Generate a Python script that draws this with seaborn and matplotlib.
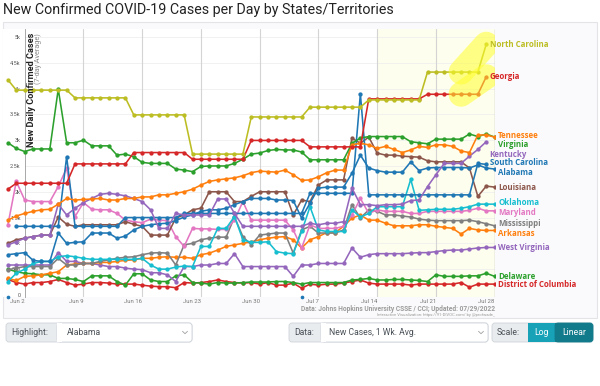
import numpy as np
import pandas as pd
import matplotlib.pyplot as plt
import matplotlib.dates as mdates
from matplotlib.patches import Rectangle, FancyBboxPatch
import seaborn as sns

nan = np.nan
dates = pd.date_range('2022-05-31', '2022-07-28', freq='D')

# 7-day average of new cases (May 31 .. Jul 28)
north_carolina = [4170, 3970, 3970, 3970, 3970, 3970, 3970, 3970,
                  3820, 3820, 3820, 3820, 3820, 3820, 3820,
                  3490, 3490, 3490, 3490, 3490, 3490, 3490,
                  2730, 2730, 2730, 2730, 2730, 2730, 2730,
                  3450, 3450, 3450, 3450, 3450, 3450, 3450,
                  3640, 3640, 3640, 3640, 3640, 3640, 3640,
                  3780, 3780, 3780, 3780, 3780, 3780, 3780,
                  4320, 4320, 4320, 4320, 4320, 4320, 4320,
                  4860, nan]
georgia = [2050, 2165, 2165, 2165, 2165, 2165, 2165, 2165,
           2540, 2540, 2540, 2540, 2540, 2540, 2540,
           2760, 2760, 2760, 2760, 2760, 2760, 2760,
           2630, 2630, 2630, 2630, 2630, 2630, 2630,
           2995, 2995, 2995, 2995, 2995, 2995, 2995,
           2870, 2870, 2870, 2870, 2870, 2870, 2870,
           3800, 3800, 3800, 3800, 3800, 3800, 3800,
           3890, 3890, 3890, 3890, 3890, 3890, 3890,
           4230, nan]
tennessee = [1450, 1530, 1580, 1620, 1650, 1660, 1760, 1870, 1840, 1850,
             1860, 1870, 1840, 1840, 1870, 1870, 1900, 1900, 1940, 1940,
             1970, 2000, 2050, 2130, 2200, 2230, 2250, 2270, 2310, 2370,
             2400, 2390, 2380, 2420, 2330, 2220, 2230, 2290, 2370, 2420,
             2420, 2910, 2940, 2910, 2840, 2880, 2820, 2760, 2810, 2880,
             2860, 2910, 2910, 2880, 2790, 2760, 3100, 3100, 3060]
virginia = [2950, 2840, 2780, 2830, 2830, 2830, 3990, 2950, 2950, 3000,
            2890, 2890, 2890, 2710, 2730, 2680, 2570, 2550, 2550, 2550,
            2440, 2420, 2390, 2490, 2500, 2500, 2500, 2550, 2630, 2730,
            2750, 2800, 2820, 2810, 2810, 2770, 2620, 2620, 2620, 2620,
            2620, 2940, 3040, 3070, 3070, 3070, 3070, 3070, 2970, 2950,
            2930, 3020, 3020, 3020, 3020, 3120, 3070, 3120, 3060]
kentucky = [970, 1030, 1100, 1130, 1160, 1160, 1760, 1550, 1680, 1790,
            1870, 1950, 1970, 1950, 1920, 1870, 1810, 1650, 1290, 1290,
            1580, 1550, 1550, 1550, 1550, 1860, 1860, 1580, 1330, 1330,
            1330, 1330, 1330, 1330, 1330, 1330, 1390, 1360, 1390, 1390,
            1420, 2070, 1750, 1750, 1730, 1750, 1750, 1760, 1830, 1840,
            2100, 2330, 2550, 2550, 2550, 2690, 2820, 2970, nan]
south_carolina = [nan, 1330, 1330, 1330, 1330, 1330, 1330, 2680, 1330, 1330,
                  1330, 1330, 1330, 1330, 1500, 1500, 1500, 1500, 1500, 1500,
                  1500, 1580, 1580, 1580, 1580, 1580, 1580, 1580, 1580, 1580,
                  1580, 1580, 1580, 1580, 1580, 1580, 1970, 1970, 1970, 1970,
                  1970, 1970, 3900, 1940, 1940, 1940, 1940, 1940, 1940, 1940,
                  1940, 1940, 1940, 1940, 1940, 1940, 2550, 2530, nan]
alabama = [780, 800, 820, 670, 650, 650, 1200, 1000, 1020, 1030,
           1200, 1200, 1200, 1100, 1140, 1260, 1330, 1360, 1380, 1390,
           1440, 1510, 1550, 1620, 1650, 1650, 1680, 1750, 1810, 1870,
           1870, 1870, 1840, 1840, 1830, 1490, 1780, 2070, 2090, 2090,
           2090, 2360, 2710, 2460, 2410, 2380, 2380, 2380, 2580, 2410,
           2460, 2470, 2470, 2470, 2470, 2460, 2520, 2460, 2440]
louisiana = [1000, 1070, 1100, 1130, 1160, 1160, 1510, 1370, 1330, 1360,
             1360, 1360, 1360, 1360, 1420, 1370, 1330, 1160, 1160, 1160,
             1490, 1550, 1650, 1680, 2000, 2000, 2000, 1810, 1810, 1910,
             2000, 2000, 2000, 2000, 1550, 1840, 1810, 2130, 2230, 2230,
             2230, 3040, 2940, 3060, 2750, 2710, 2710, 2690, 2680, 2670,
             2600, 2580, 2580, 2580, 2580, 2460, 1910, 2110, 2090]
oklahoma = [260, 420, 500, 610, 650, 650, 740, 760, 740, 710,
            690, 690, 690, 690, 690, 690, 710, 580, 500, 500,
            540, 560, 550, 940, 940, 1290, 1290, 1520, 1070, 1020,
            1020, 1030, 840, 810, 800, 1230, 1710, 1260, 1230, 1230,
            1230, 1650, 1510, 1580, 1710, 1710, 1710, 1710, 2240, 1640,
            1650, 1660, 1660, 1660, 1680, 1710, 1760, 1760, 1760]
maryland = [1360, 2200, 1840, 1810, 1810, 1810, 2100, 2460, 1520, 1790,
            1660, 1650, 1650, 1580, 1450, 1420, 1400, 1470, 1450, 1440,
            1130, 940, 1290, 1280, 1280, 1270, 1270, 1450, 1810, 1450,
            1450, 1450, 1450, 1450, 1260, 910, 1360, 1290, 1290, 1290,
            1330, 1550, 1870, 1580, 1650, 1620, 1620, 1620, 1580, 1580,
            1620, 1620, 1620, 1620, 1620, 1640, 1680, 1630, 1630]
mississippi = [490, 520, 550, 550, 550, 550, 710, 580, 580, 610,
               610, 650, 680, 710, 730, 740, 780, 810, 820, 810,
               580, 970, 1000, 1070, 1100, 1120, 1120, 1510, 1130, 970,
               1160, 1180, 1200, 1200, 810, 1260, 1330, 1200, 1200, 1200,
               1260, 1750, 1490, 1650, 1620, 1550, 1550, 1530, 1510, 1470,
               1450, 1440, 1440, 1440, 1440, 1450, 1420, 1380, 1340]
arkansas = [320, 280, 360, 370, 390, 420, 450, 580, 600, 610,
            610, 630, 630, 650, 670, 680, 710, 710, 730, 740,
            730, 730, 710, 780, 810, 870, 940, 970, 1000, 1030,
            1070, 1100, 1120, 1130, 1070, 910, 1070, 1130, 1210, 1210,
            1330, 1490, 1550, 1450, 1450, 1390, 1340, 1340, 1340, 1360,
            1360, 1330, 1310, 1290, 1180, 1290, 1260, 1250, 1250]
west_virginia = [580, 580, 580, 580, 580, 580, 820, 650, 650, 610,
                 610, 580, 550, 550, 520, 500, 490, 430, 430, 390,
                 260, 550, 550, 580, 580, 610, 610, 800, 550, 550,
                 550, 550, 550, 550, 360, 580, 580, 610, 610, 610,
                 610, 910, 730, 780, 800, 800, 800, 800, 810, 820,
                 820, 840, 860, 870, 870, 890, 910, 920, 920]
delaware = [500, 450, 420, 410, 390, 390, 320, 320, 300, 260,
            370, 370, 370, 260, 190, 410, 410, 290, 260, 260,
            370, 390, 240, 230, 210, 240, 230, 230, 240, 250,
            250, 250, 260, 260, 240, 210, 240, 240, 240, 240,
            240, 290, 300, 320, 290, 290, 300, 300, 290, 280,
            260, 390, 360, 360, 360, 370, 370, 420, 360]
district_of_columbia = [300, 240, 210, 240, 240, 260, 300, 240, 190, 210,
                        240, 240, 230, 210, 210, 210, 190, 170, 160, 160,
                        140, 240, 230, 240, 260, 290, 260, 240, 230, 240,
                        210, 240, 190, 190, 230, 130, 210, 190, 210, 210,
                        230, 260, 290, 230, 210, 210, 210, 210, 190, 210,
                        210, 210, 210, 210, 240, 150, 210, 210, 210]

series = {
    'District of Columbia': district_of_columbia,
    'Delaware': delaware,
    'West Virginia': west_virginia,
    'Arkansas': arkansas,
    'Mississippi': mississippi,
    'Maryland': maryland,
    'Oklahoma': oklahoma,
    'Louisiana': louisiana,
    'Alabama': alabama,
    'South Carolina': south_carolina,
    'Kentucky': kentucky,
    'Virginia': virginia,
    'Tennessee': tennessee,
    'Georgia': georgia,
    'North Carolina': north_carolina,
}
colors = {
    'District of Columbia': '#d62728', 'Delaware': '#2ca02c', 'West Virginia': '#9467bd',
    'Arkansas': '#ff7f0e', 'Mississippi': '#7f7f7f', 'Maryland': '#e377c2',
    'Oklahoma': '#17becf', 'Louisiana': '#8c564b', 'Alabama': '#1f77b4',
    'South Carolina': '#1f77b4', 'Kentucky': '#9467bd', 'Virginia': '#2ca02c',
    'Tennessee': '#ff7f0e', 'Georgia': '#d62728', 'North Carolina': '#bcbd22',
}
# vertical label shifts (pixels, down is positive) so end labels don't collide
label_nudge_px = {'Tennessee': -2, 'Virginia': 7, 'Kentucky': 13,
                  'South Carolina': -2, 'Alabama': 3, 'Oklahoma': -1.5, 'Maryland': 1.5,
                  'Mississippi': -2, 'Arkansas': 3}

week_ticks = pd.date_range('2022-06-02', '2022-07-28', freq='7D')
week_labels = ['Jun 2', 'Jun 9', 'Jun 16', 'Jun 23', 'Jun 30', 'Jul 7', 'Jul 14', 'Jul 21', 'Jul 28']
y_ticks = [0, 500, 1000, 1500, 2000, 2500, 3000, 3500, 4000, 4500, 5000]
y_labels = ['0', '500', '1k', '1.5k', '2k', '2.5k', '3k', '3.5k', '4k', '4.5k', '5k']
event_dates = pd.to_datetime(['2022-05-31', '2022-07-05'])

df = pd.concat([pd.DataFrame({'date': dates, 'cases': v, 'state': k}) for k, v in series.items()])

sns.set_theme(style='white')
plt.rcParams['font.family'] = ['Roboto', 'DejaVu Sans']

W, H = 600, 386
fig = plt.figure(figsize=(6, 3.86), dpi=100)

# background layer in pixel coordinates
bg = fig.add_axes([0, 0, 1, 1])
bg.set_xlim(0, W)
bg.set_ylim(H, 0)
bg.axis('off')
bg.add_patch(Rectangle((3, 22), 594, 296, facecolor='#fafafc', edgecolor='#e3e3e8', lw=0.8))
bg.text(3, 10, 'New Confirmed COVID-19 Cases per Day by States/Territories',
        fontsize=10.3, va='center', ha='left', color='#222222')

ax = fig.add_axes([3 / W, 1 - 297 / H, 492 / W, 268 / H])
ax.set_facecolor('white')
x_left = pd.Timestamp('2022-05-30 10:00')
x_right = pd.Timestamp('2022-07-28 01:00')
jun2 = pd.Timestamp('2022-06-02')
jul28 = pd.Timestamp('2022-07-28')

ax.axvspan(pd.Timestamp('2022-07-14'), jul28, color='#fefeee', zorder=0.2, lw=0)
ax.hlines(y_ticks[1:], jun2, jul28, color='#efefef', lw=0.6, zorder=0.4)
for d in week_ticks[1:-1]:
    ax.axvline(d, color='#d4d4d4', lw=0.8, zorder=0.5)
ax.axvline(jul28, color='#b4b4b4', lw=1.0, zorder=0.5)

for name, vals in series.items():
    sns.lineplot(data=df[df['state'] == name], x='date', y='cases', color=colors[name],
                 marker='o', markersize=3.1, markeredgewidth=0, linewidth=1.15,
                 ax=ax, legend=False, zorder=3)

# highlight blobs on the two leading states
for name in ['North Carolina', 'Georgia']:
    vals = series[name]
    ax.plot([dates[54], dates[57]], [vals[54], vals[57]], color='#ffff30', alpha=0.55,
            lw=18, solid_capstyle='round', zorder=6)

for name, vals in series.items():
    s = pd.Series(vals, index=dates).dropna()
    ax.annotate(name, xy=(s.index[-1], s.iloc[-1]),
                xytext=(2.5, -label_nudge_px.get(name, 0) * 0.72), textcoords='offset points',
                color=colors[name], fontsize=5.7, fontweight='bold', va='center', ha='left',
                annotation_clip=False, family=['Open Sans', 'DejaVu Sans'], zorder=7)

ax.scatter(event_dates, [-35, -35], s=7, color='#1f77b4', zorder=8, clip_on=False, lw=0)

ax.set_xlim(x_left, x_right)
ax.set_ylim(-40, 5155)
for side in ['top', 'right', 'bottom']:
    ax.spines[side].set_visible(False)
ax.spines['left'].set_position(('data', mdates.date2num(jun2)))
ax.spines['left'].set_color('#9a9a9a')
ax.spines['left'].set_linewidth(0.6)
ax.set_yticks(y_ticks)
ax.set_yticklabels(y_labels, fontsize=4, color='#555555')
ax.set_xticks(week_ticks)
ax.set_xticklabels(week_labels, fontsize=4.3, color='#777777', ha='right')
ax.tick_params(axis='y', length=2, width=0.5, color='#9a9a9a', pad=1)
ax.tick_params(axis='x', length=0, pad=1.5)
ax.set_xlabel('')
ax.set_ylabel('')

fig.text(31 / W, 1 - 33 / H, 'New Daily Confirmed Cases', rotation=90, ha='center', va='top',
         fontsize=6.6, fontweight='bold', color='#222222', zorder=10)
fig.text(38.5 / W, 1 - 33 / H, '(7-day Average)', rotation=90, ha='center', va='top',
         fontsize=5.2, color='#8a8a8a', zorder=10)

bg.text(495, 309, 'Data: Johns Hopkins University CSSE / CCI; Updated: 07/29/2022',
        ha='right', va='center', fontsize=4.8, fontweight='bold', color='#9c9c9c')
bg.text(495, 315.2, 'Interactive Visualization: https://91-DIVOC.com/ by @profwade_',
        ha='right', va='center', fontsize=3, color='#9c9c9c')


# bottom controls
def rbox(x0, x1, y0, y1, face, edge='#ced4da', r=3):
    bg.add_patch(FancyBboxPatch((x0, y0), x1 - x0, y1 - y0,
                                boxstyle=f'round,pad=0,rounding_size={r}',
                                facecolor=face, edgecolor=edge, lw=0.6))


def chevron(x, y):
    bg.plot([x - 2.5, x, x + 2.5], [y - 1.2, y + 1.2, y - 1.2], color='#a0a0a0', lw=0.6)


y0, y1 = 323, 342
rbox(6, 192, y0, y1, '#e9ecef')
rbox(57, 192, y0, y1, 'white')
bg.add_patch(Rectangle((57, y0 + 0.3), 5, y1 - y0 - 0.6, facecolor='white', lw=0))
bg.text(11, 332.5, 'Highlight:', fontsize=6.2, color='#495057', va='center')
bg.text(67, 332.5, 'Alabama', fontsize=6.2, color='#495057', va='center')
chevron(185, 332.5)

rbox(289, 488, y0, y1, '#e9ecef')
rbox(321, 488, y0, y1, 'white')
bg.add_patch(Rectangle((321, y0 + 0.3), 5, y1 - y0 - 0.6, facecolor='white', lw=0))
bg.text(294, 332.5, 'Data:', fontsize=6.2, color='#495057', va='center')
bg.text(329, 332.5, 'New Cases, 1 Wk. Avg.', fontsize=6.2, color='#495057', va='center')
chevron(481, 332.5)

rbox(492, 593, y0, y1, '#e9ecef')
bg.add_patch(Rectangle((528, y0), 27, y1 - y0, facecolor='#17a2b8', lw=0))
rbox(555, 593, y0, y1, '#117a8b', edge='#117a8b')
bg.add_patch(Rectangle((555, y0), 5, y1 - y0, facecolor='#117a8b', lw=0))
bg.text(497, 332.5, 'Scale:', fontsize=6.2, color='#495057', va='center')
bg.text(541.5, 332.5, 'Log', fontsize=6.2, color='white', va='center', ha='center')
bg.text(574, 332.5, 'Linear', fontsize=6.2, color='white', va='center', ha='center')

fig.savefig('out.png', dpi=100)
